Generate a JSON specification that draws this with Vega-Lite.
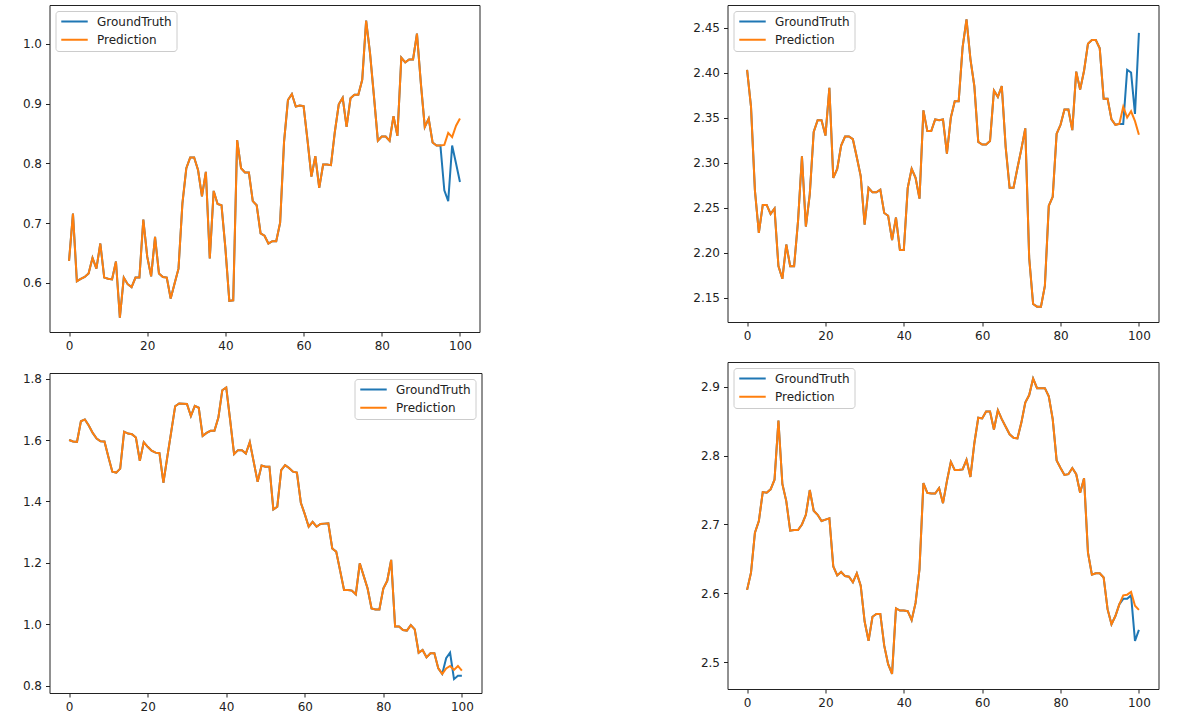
{
"$schema": "https://vega.github.io/schema/vega-lite/v6.json",
"padding": {"left": 17.5, "top": 4, "right": 0, "bottom": 0},
"background": "white",
"config": {
  "font": "DejaVu Sans",
  "view": {"stroke": "#222", "strokeWidth": 1},
  "axis": {"grid": false, "domain": false, "tickColor": "#222", "tickSize": 4, "labelPadding": 4, "labelFontSize": 12, "labelColor": "#222", "title": null, "labelFont": "DejaVu Sans"},
  "legend": {"labelFont": "DejaVu Sans", "title": null, "symbolType": "stroke", "symbolSize": 700, "symbolStrokeWidth": 2, "labelFontSize": 12, "labelOffset": 8, "padding": 4.5, "clipHeight": 12, "rowPadding": 6.3, "strokeColor": "#cccccc", "fillColor": "rgba(255,255,255,0.8)", "cornerRadius": 3, "labelColor": "#222"}
},
"datasets": {
"p1": [
{"x":0,"GroundTruth":0.637,"Prediction":0.637},{"x":1,"GroundTruth":0.716,"Prediction":0.716},{"x":2,"GroundTruth":0.603,"Prediction":0.603},{"x":3,"GroundTruth":0.607,"Prediction":0.607},{"x":4,"GroundTruth":0.610,"Prediction":0.610},{"x":5,"GroundTruth":0.616,"Prediction":0.616},{"x":6,"GroundTruth":0.642,"Prediction":0.642},{"x":7,"GroundTruth":0.624,"Prediction":0.624},{"x":8,"GroundTruth":0.666,"Prediction":0.666},{"x":9,"GroundTruth":0.609,"Prediction":0.609},
{"x":10,"GroundTruth":0.607,"Prediction":0.607},{"x":11,"GroundTruth":0.606,"Prediction":0.606},{"x":12,"GroundTruth":0.636,"Prediction":0.636},{"x":13,"GroundTruth":0.542,"Prediction":0.542},{"x":14,"GroundTruth":0.609,"Prediction":0.609},{"x":15,"GroundTruth":0.598,"Prediction":0.598},{"x":16,"GroundTruth":0.593,"Prediction":0.593},{"x":17,"GroundTruth":0.609,"Prediction":0.609},{"x":18,"GroundTruth":0.609,"Prediction":0.609},{"x":19,"GroundTruth":0.706,"Prediction":0.706},
{"x":20,"GroundTruth":0.644,"Prediction":0.644},{"x":21,"GroundTruth":0.611,"Prediction":0.611},{"x":22,"GroundTruth":0.677,"Prediction":0.677},{"x":23,"GroundTruth":0.616,"Prediction":0.616},{"x":24,"GroundTruth":0.610,"Prediction":0.610},{"x":25,"GroundTruth":0.609,"Prediction":0.609},{"x":26,"GroundTruth":0.574,"Prediction":0.574},{"x":27,"GroundTruth":0.599,"Prediction":0.599},{"x":28,"GroundTruth":0.624,"Prediction":0.624},{"x":29,"GroundTruth":0.733,"Prediction":0.733},
{"x":30,"GroundTruth":0.792,"Prediction":0.792},{"x":31,"GroundTruth":0.810,"Prediction":0.810},{"x":32,"GroundTruth":0.810,"Prediction":0.810},{"x":33,"GroundTruth":0.789,"Prediction":0.789},{"x":34,"GroundTruth":0.745,"Prediction":0.745},{"x":35,"GroundTruth":0.786,"Prediction":0.786},{"x":36,"GroundTruth":0.641,"Prediction":0.641},{"x":37,"GroundTruth":0.754,"Prediction":0.754},{"x":38,"GroundTruth":0.732,"Prediction":0.732},{"x":39,"GroundTruth":0.730,"Prediction":0.730},
{"x":40,"GroundTruth":0.658,"Prediction":0.658},{"x":41,"GroundTruth":0.570,"Prediction":0.570},{"x":42,"GroundTruth":0.571,"Prediction":0.571},{"x":43,"GroundTruth":0.839,"Prediction":0.839},{"x":44,"GroundTruth":0.792,"Prediction":0.792},{"x":45,"GroundTruth":0.785,"Prediction":0.785},{"x":46,"GroundTruth":0.785,"Prediction":0.785},{"x":47,"GroundTruth":0.737,"Prediction":0.737},{"x":48,"GroundTruth":0.730,"Prediction":0.730},{"x":49,"GroundTruth":0.683,"Prediction":0.683},
{"x":50,"GroundTruth":0.679,"Prediction":0.679},{"x":51,"GroundTruth":0.666,"Prediction":0.666},{"x":52,"GroundTruth":0.670,"Prediction":0.670},{"x":53,"GroundTruth":0.670,"Prediction":0.670},{"x":54,"GroundTruth":0.701,"Prediction":0.701},{"x":55,"GroundTruth":0.836,"Prediction":0.836},{"x":56,"GroundTruth":0.906,"Prediction":0.906},{"x":57,"GroundTruth":0.916,"Prediction":0.916},{"x":58,"GroundTruth":0.895,"Prediction":0.895},{"x":59,"GroundTruth":0.897,"Prediction":0.897},
{"x":60,"GroundTruth":0.896,"Prediction":0.896},{"x":61,"GroundTruth":0.839,"Prediction":0.839},{"x":62,"GroundTruth":0.778,"Prediction":0.778},{"x":63,"GroundTruth":0.812,"Prediction":0.812},{"x":64,"GroundTruth":0.759,"Prediction":0.759},{"x":65,"GroundTruth":0.798,"Prediction":0.798},{"x":66,"GroundTruth":0.798,"Prediction":0.798},{"x":67,"GroundTruth":0.797,"Prediction":0.797},{"x":68,"GroundTruth":0.853,"Prediction":0.853},{"x":69,"GroundTruth":0.899,"Prediction":0.899},
{"x":70,"GroundTruth":0.910,"Prediction":0.910},{"x":71,"GroundTruth":0.861,"Prediction":0.861},{"x":72,"GroundTruth":0.909,"Prediction":0.909},{"x":73,"GroundTruth":0.915,"Prediction":0.915},{"x":74,"GroundTruth":0.915,"Prediction":0.915},{"x":75,"GroundTruth":0.940,"Prediction":0.940},{"x":76,"GroundTruth":1.039,"Prediction":1.039},{"x":77,"GroundTruth":0.984,"Prediction":0.984},{"x":78,"GroundTruth":0.912,"Prediction":0.912},{"x":79,"GroundTruth":0.838,"Prediction":0.838},
{"x":80,"GroundTruth":0.845,"Prediction":0.845},{"x":81,"GroundTruth":0.845,"Prediction":0.845},{"x":82,"GroundTruth":0.838,"Prediction":0.838},{"x":83,"GroundTruth":0.879,"Prediction":0.879},{"x":84,"GroundTruth":0.846,"Prediction":0.846},{"x":85,"GroundTruth":0.977,"Prediction":0.977},{"x":86,"GroundTruth":0.969,"Prediction":0.969},{"x":87,"GroundTruth":0.974,"Prediction":0.974},{"x":88,"GroundTruth":0.974,"Prediction":0.974},{"x":89,"GroundTruth":1.017,"Prediction":1.017},
{"x":90,"GroundTruth":0.934,"Prediction":0.934},{"x":91,"GroundTruth":0.861,"Prediction":0.861},{"x":92,"GroundTruth":0.875,"Prediction":0.875},{"x":93,"GroundTruth":0.835,"Prediction":0.835},{"x":94,"GroundTruth":0.830,"Prediction":0.830},{"x":95,"GroundTruth":0.830,"Prediction":0.830},{"x":96,"GroundTruth":0.755,"Prediction":0.831},{"x":97,"GroundTruth":0.737,"Prediction":0.851},{"x":98,"GroundTruth":0.830,"Prediction":0.844},{"x":99,"GroundTruth":0.800,"Prediction":0.863},
{"x":100,"GroundTruth":0.769,"Prediction":0.875}
],
"p2": [
{"x":0,"GroundTruth":2.403,"Prediction":2.403},{"x":1,"GroundTruth":2.362,"Prediction":2.362},{"x":2,"GroundTruth":2.269,"Prediction":2.269},{"x":3,"GroundTruth":2.222,"Prediction":2.222},{"x":4,"GroundTruth":2.253,"Prediction":2.253},{"x":5,"GroundTruth":2.253,"Prediction":2.253},{"x":6,"GroundTruth":2.243,"Prediction":2.243},{"x":7,"GroundTruth":2.249,"Prediction":2.249},{"x":8,"GroundTruth":2.185,"Prediction":2.185},{"x":9,"GroundTruth":2.171,"Prediction":2.171},
{"x":10,"GroundTruth":2.209,"Prediction":2.209},{"x":11,"GroundTruth":2.185,"Prediction":2.185},{"x":12,"GroundTruth":2.185,"Prediction":2.185},{"x":13,"GroundTruth":2.235,"Prediction":2.235},{"x":14,"GroundTruth":2.307,"Prediction":2.307},{"x":15,"GroundTruth":2.229,"Prediction":2.229},{"x":16,"GroundTruth":2.265,"Prediction":2.265},{"x":17,"GroundTruth":2.334,"Prediction":2.334},{"x":18,"GroundTruth":2.347,"Prediction":2.347},{"x":19,"GroundTruth":2.347,"Prediction":2.347},
{"x":20,"GroundTruth":2.330,"Prediction":2.330},{"x":21,"GroundTruth":2.383,"Prediction":2.383},{"x":22,"GroundTruth":2.283,"Prediction":2.283},{"x":23,"GroundTruth":2.293,"Prediction":2.293},{"x":24,"GroundTruth":2.319,"Prediction":2.319},{"x":25,"GroundTruth":2.329,"Prediction":2.329},{"x":26,"GroundTruth":2.329,"Prediction":2.329},{"x":27,"GroundTruth":2.326,"Prediction":2.326},{"x":28,"GroundTruth":2.306,"Prediction":2.306},{"x":29,"GroundTruth":2.285,"Prediction":2.285},
{"x":30,"GroundTruth":2.231,"Prediction":2.231},{"x":31,"GroundTruth":2.272,"Prediction":2.272},{"x":32,"GroundTruth":2.267,"Prediction":2.267},{"x":33,"GroundTruth":2.267,"Prediction":2.267},{"x":34,"GroundTruth":2.270,"Prediction":2.270},{"x":35,"GroundTruth":2.244,"Prediction":2.244},{"x":36,"GroundTruth":2.241,"Prediction":2.241},{"x":37,"GroundTruth":2.214,"Prediction":2.214},{"x":38,"GroundTruth":2.239,"Prediction":2.239},{"x":39,"GroundTruth":2.203,"Prediction":2.203},
{"x":40,"GroundTruth":2.203,"Prediction":2.203},{"x":41,"GroundTruth":2.272,"Prediction":2.272},{"x":42,"GroundTruth":2.293,"Prediction":2.293},{"x":43,"GroundTruth":2.283,"Prediction":2.283},{"x":44,"GroundTruth":2.260,"Prediction":2.260},{"x":45,"GroundTruth":2.358,"Prediction":2.358},{"x":46,"GroundTruth":2.335,"Prediction":2.335},{"x":47,"GroundTruth":2.335,"Prediction":2.335},{"x":48,"GroundTruth":2.348,"Prediction":2.348},{"x":49,"GroundTruth":2.347,"Prediction":2.347},
{"x":50,"GroundTruth":2.348,"Prediction":2.348},{"x":51,"GroundTruth":2.310,"Prediction":2.310},{"x":52,"GroundTruth":2.350,"Prediction":2.350},{"x":53,"GroundTruth":2.368,"Prediction":2.368},{"x":54,"GroundTruth":2.368,"Prediction":2.368},{"x":55,"GroundTruth":2.428,"Prediction":2.428},{"x":56,"GroundTruth":2.459,"Prediction":2.459},{"x":57,"GroundTruth":2.415,"Prediction":2.415},{"x":58,"GroundTruth":2.385,"Prediction":2.385},{"x":59,"GroundTruth":2.323,"Prediction":2.323},
{"x":60,"GroundTruth":2.320,"Prediction":2.320},{"x":61,"GroundTruth":2.320,"Prediction":2.320},{"x":62,"GroundTruth":2.324,"Prediction":2.324},{"x":63,"GroundTruth":2.380,"Prediction":2.380},{"x":64,"GroundTruth":2.373,"Prediction":2.373},{"x":65,"GroundTruth":2.385,"Prediction":2.385},{"x":66,"GroundTruth":2.317,"Prediction":2.317},{"x":67,"GroundTruth":2.272,"Prediction":2.272},{"x":68,"GroundTruth":2.272,"Prediction":2.272},{"x":69,"GroundTruth":2.294,"Prediction":2.294},
{"x":70,"GroundTruth":2.315,"Prediction":2.315},{"x":71,"GroundTruth":2.338,"Prediction":2.338},{"x":72,"GroundTruth":2.194,"Prediction":2.194},{"x":73,"GroundTruth":2.143,"Prediction":2.143},{"x":74,"GroundTruth":2.140,"Prediction":2.140},{"x":75,"GroundTruth":2.140,"Prediction":2.140},{"x":76,"GroundTruth":2.163,"Prediction":2.163},{"x":77,"GroundTruth":2.252,"Prediction":2.252},{"x":78,"GroundTruth":2.262,"Prediction":2.262},{"x":79,"GroundTruth":2.332,"Prediction":2.332},
{"x":80,"GroundTruth":2.342,"Prediction":2.342},{"x":81,"GroundTruth":2.359,"Prediction":2.359},{"x":82,"GroundTruth":2.359,"Prediction":2.359},{"x":83,"GroundTruth":2.336,"Prediction":2.336},{"x":84,"GroundTruth":2.401,"Prediction":2.401},{"x":85,"GroundTruth":2.381,"Prediction":2.381},{"x":86,"GroundTruth":2.402,"Prediction":2.402},{"x":87,"GroundTruth":2.432,"Prediction":2.432},{"x":88,"GroundTruth":2.436,"Prediction":2.436},{"x":89,"GroundTruth":2.436,"Prediction":2.436},
{"x":90,"GroundTruth":2.427,"Prediction":2.427},{"x":91,"GroundTruth":2.371,"Prediction":2.371},{"x":92,"GroundTruth":2.371,"Prediction":2.371},{"x":93,"GroundTruth":2.348,"Prediction":2.348},{"x":94,"GroundTruth":2.342,"Prediction":2.342},{"x":95,"GroundTruth":2.343,"Prediction":2.343},{"x":96,"GroundTruth":2.343,"Prediction":2.362},{"x":97,"GroundTruth":2.403,"Prediction":2.350},{"x":98,"GroundTruth":2.400,"Prediction":2.357},{"x":99,"GroundTruth":2.354,"Prediction":2.346},
{"x":100,"GroundTruth":2.444,"Prediction":2.331}
],
"p3": [
{"x":0,"GroundTruth":1.600,"Prediction":1.600},{"x":1,"GroundTruth":1.595,"Prediction":1.595},{"x":2,"GroundTruth":1.594,"Prediction":1.594},{"x":3,"GroundTruth":1.661,"Prediction":1.661},{"x":4,"GroundTruth":1.667,"Prediction":1.667},{"x":5,"GroundTruth":1.647,"Prediction":1.647},{"x":6,"GroundTruth":1.623,"Prediction":1.623},{"x":7,"GroundTruth":1.605,"Prediction":1.605},{"x":8,"GroundTruth":1.596,"Prediction":1.596},{"x":9,"GroundTruth":1.595,"Prediction":1.595},
{"x":10,"GroundTruth":1.545,"Prediction":1.545},{"x":11,"GroundTruth":1.497,"Prediction":1.497},{"x":12,"GroundTruth":1.494,"Prediction":1.494},{"x":13,"GroundTruth":1.507,"Prediction":1.507},{"x":14,"GroundTruth":1.627,"Prediction":1.627},{"x":15,"GroundTruth":1.621,"Prediction":1.621},{"x":16,"GroundTruth":1.619,"Prediction":1.619},{"x":17,"GroundTruth":1.608,"Prediction":1.608},{"x":18,"GroundTruth":1.532,"Prediction":1.532},{"x":19,"GroundTruth":1.593,"Prediction":1.593},
{"x":20,"GroundTruth":1.578,"Prediction":1.578},{"x":21,"GroundTruth":1.565,"Prediction":1.565},{"x":22,"GroundTruth":1.559,"Prediction":1.559},{"x":23,"GroundTruth":1.557,"Prediction":1.557},{"x":24,"GroundTruth":1.461,"Prediction":1.461},{"x":25,"GroundTruth":1.545,"Prediction":1.545},{"x":26,"GroundTruth":1.627,"Prediction":1.627},{"x":27,"GroundTruth":1.710,"Prediction":1.710},{"x":28,"GroundTruth":1.719,"Prediction":1.719},{"x":29,"GroundTruth":1.718,"Prediction":1.718},
{"x":30,"GroundTruth":1.717,"Prediction":1.717},{"x":31,"GroundTruth":1.678,"Prediction":1.678},{"x":32,"GroundTruth":1.711,"Prediction":1.711},{"x":33,"GroundTruth":1.705,"Prediction":1.705},{"x":34,"GroundTruth":1.613,"Prediction":1.613},{"x":35,"GroundTruth":1.623,"Prediction":1.623},{"x":36,"GroundTruth":1.630,"Prediction":1.630},{"x":37,"GroundTruth":1.630,"Prediction":1.630},{"x":38,"GroundTruth":1.673,"Prediction":1.673},{"x":39,"GroundTruth":1.762,"Prediction":1.762},
{"x":40,"GroundTruth":1.771,"Prediction":1.771},{"x":41,"GroundTruth":1.665,"Prediction":1.665},{"x":42,"GroundTruth":1.554,"Prediction":1.554},{"x":43,"GroundTruth":1.567,"Prediction":1.567},{"x":44,"GroundTruth":1.567,"Prediction":1.567},{"x":45,"GroundTruth":1.556,"Prediction":1.556},{"x":46,"GroundTruth":1.593,"Prediction":1.593},{"x":47,"GroundTruth":1.529,"Prediction":1.529},{"x":48,"GroundTruth":1.464,"Prediction":1.464},{"x":49,"GroundTruth":1.517,"Prediction":1.517},
{"x":50,"GroundTruth":1.513,"Prediction":1.513},{"x":51,"GroundTruth":1.513,"Prediction":1.513},{"x":52,"GroundTruth":1.374,"Prediction":1.374},{"x":53,"GroundTruth":1.383,"Prediction":1.383},{"x":54,"GroundTruth":1.502,"Prediction":1.502},{"x":55,"GroundTruth":1.518,"Prediction":1.518},{"x":56,"GroundTruth":1.509,"Prediction":1.509},{"x":57,"GroundTruth":1.497,"Prediction":1.497},{"x":58,"GroundTruth":1.494,"Prediction":1.494},{"x":59,"GroundTruth":1.396,"Prediction":1.396},
{"x":60,"GroundTruth":1.359,"Prediction":1.359},{"x":61,"GroundTruth":1.318,"Prediction":1.318},{"x":62,"GroundTruth":1.334,"Prediction":1.334},{"x":63,"GroundTruth":1.318,"Prediction":1.318},{"x":64,"GroundTruth":1.327,"Prediction":1.327},{"x":65,"GroundTruth":1.328,"Prediction":1.328},{"x":66,"GroundTruth":1.329,"Prediction":1.329},{"x":67,"GroundTruth":1.247,"Prediction":1.247},{"x":68,"GroundTruth":1.237,"Prediction":1.237},{"x":69,"GroundTruth":1.175,"Prediction":1.175},
{"x":70,"GroundTruth":1.112,"Prediction":1.112},{"x":71,"GroundTruth":1.112,"Prediction":1.112},{"x":72,"GroundTruth":1.110,"Prediction":1.110},{"x":73,"GroundTruth":1.098,"Prediction":1.098},{"x":74,"GroundTruth":1.199,"Prediction":1.199},{"x":75,"GroundTruth":1.158,"Prediction":1.158},{"x":76,"GroundTruth":1.117,"Prediction":1.117},{"x":77,"GroundTruth":1.052,"Prediction":1.052},{"x":78,"GroundTruth":1.049,"Prediction":1.049},{"x":79,"GroundTruth":1.049,"Prediction":1.049},
{"x":80,"GroundTruth":1.117,"Prediction":1.117},{"x":81,"GroundTruth":1.142,"Prediction":1.142},{"x":82,"GroundTruth":1.210,"Prediction":1.210},{"x":83,"GroundTruth":0.993,"Prediction":0.993},{"x":84,"GroundTruth":0.993,"Prediction":0.993},{"x":85,"GroundTruth":0.982,"Prediction":0.982},{"x":86,"GroundTruth":0.980,"Prediction":0.980},{"x":87,"GroundTruth":0.998,"Prediction":0.998},{"x":88,"GroundTruth":0.984,"Prediction":0.984},{"x":89,"GroundTruth":0.908,"Prediction":0.908},
{"x":90,"GroundTruth":0.917,"Prediction":0.917},{"x":91,"GroundTruth":0.893,"Prediction":0.893},{"x":92,"GroundTruth":0.906,"Prediction":0.906},{"x":93,"GroundTruth":0.906,"Prediction":0.906},{"x":94,"GroundTruth":0.857,"Prediction":0.857},{"x":95,"GroundTruth":0.839,"Prediction":0.839},{"x":96,"GroundTruth":0.890,"Prediction":0.857},{"x":97,"GroundTruth":0.908,"Prediction":0.865},{"x":98,"GroundTruth":0.822,"Prediction":0.852},{"x":99,"GroundTruth":0.833,"Prediction":0.865},
{"x":100,"GroundTruth":0.833,"Prediction":0.850}
],
"p4": [
{"x":0,"GroundTruth":2.605,"Prediction":2.605},{"x":1,"GroundTruth":2.630,"Prediction":2.630},{"x":2,"GroundTruth":2.688,"Prediction":2.688},{"x":3,"GroundTruth":2.705,"Prediction":2.705},{"x":4,"GroundTruth":2.747,"Prediction":2.747},{"x":5,"GroundTruth":2.746,"Prediction":2.746},{"x":6,"GroundTruth":2.751,"Prediction":2.751},{"x":7,"GroundTruth":2.765,"Prediction":2.765},{"x":8,"GroundTruth":2.851,"Prediction":2.851},{"x":9,"GroundTruth":2.759,"Prediction":2.759},
{"x":10,"GroundTruth":2.734,"Prediction":2.734},{"x":11,"GroundTruth":2.691,"Prediction":2.691},{"x":12,"GroundTruth":2.692,"Prediction":2.692},{"x":13,"GroundTruth":2.692,"Prediction":2.692},{"x":14,"GroundTruth":2.700,"Prediction":2.700},{"x":15,"GroundTruth":2.714,"Prediction":2.714},{"x":16,"GroundTruth":2.750,"Prediction":2.750},{"x":17,"GroundTruth":2.720,"Prediction":2.720},{"x":18,"GroundTruth":2.714,"Prediction":2.714},{"x":19,"GroundTruth":2.705,"Prediction":2.705},
{"x":20,"GroundTruth":2.707,"Prediction":2.707},{"x":21,"GroundTruth":2.709,"Prediction":2.709},{"x":22,"GroundTruth":2.639,"Prediction":2.639},{"x":23,"GroundTruth":2.626,"Prediction":2.626},{"x":24,"GroundTruth":2.631,"Prediction":2.631},{"x":25,"GroundTruth":2.625,"Prediction":2.625},{"x":26,"GroundTruth":2.624,"Prediction":2.624},{"x":27,"GroundTruth":2.616,"Prediction":2.616},{"x":28,"GroundTruth":2.629,"Prediction":2.629},{"x":29,"GroundTruth":2.611,"Prediction":2.611},
{"x":30,"GroundTruth":2.559,"Prediction":2.559},{"x":31,"GroundTruth":2.531,"Prediction":2.531},{"x":32,"GroundTruth":2.566,"Prediction":2.566},{"x":33,"GroundTruth":2.570,"Prediction":2.570},{"x":34,"GroundTruth":2.570,"Prediction":2.570},{"x":35,"GroundTruth":2.524,"Prediction":2.524},{"x":36,"GroundTruth":2.497,"Prediction":2.497},{"x":37,"GroundTruth":2.483,"Prediction":2.483},{"x":38,"GroundTruth":2.578,"Prediction":2.578},{"x":39,"GroundTruth":2.575,"Prediction":2.575},
{"x":40,"GroundTruth":2.575,"Prediction":2.575},{"x":41,"GroundTruth":2.574,"Prediction":2.574},{"x":42,"GroundTruth":2.561,"Prediction":2.561},{"x":43,"GroundTruth":2.586,"Prediction":2.586},{"x":44,"GroundTruth":2.635,"Prediction":2.635},{"x":45,"GroundTruth":2.760,"Prediction":2.760},{"x":46,"GroundTruth":2.746,"Prediction":2.746},{"x":47,"GroundTruth":2.745,"Prediction":2.745},{"x":48,"GroundTruth":2.745,"Prediction":2.745},{"x":49,"GroundTruth":2.753,"Prediction":2.753},
{"x":50,"GroundTruth":2.731,"Prediction":2.731},{"x":51,"GroundTruth":2.763,"Prediction":2.763},{"x":52,"GroundTruth":2.791,"Prediction":2.791},{"x":53,"GroundTruth":2.779,"Prediction":2.779},{"x":54,"GroundTruth":2.779,"Prediction":2.779},{"x":55,"GroundTruth":2.780,"Prediction":2.780},{"x":56,"GroundTruth":2.794,"Prediction":2.794},{"x":57,"GroundTruth":2.769,"Prediction":2.769},{"x":58,"GroundTruth":2.818,"Prediction":2.818},{"x":59,"GroundTruth":2.855,"Prediction":2.855},
{"x":60,"GroundTruth":2.854,"Prediction":2.854},{"x":61,"GroundTruth":2.864,"Prediction":2.864},{"x":62,"GroundTruth":2.864,"Prediction":2.864},{"x":63,"GroundTruth":2.838,"Prediction":2.838},{"x":64,"GroundTruth":2.866,"Prediction":2.866},{"x":65,"GroundTruth":2.853,"Prediction":2.853},{"x":66,"GroundTruth":2.842,"Prediction":2.842},{"x":67,"GroundTruth":2.831,"Prediction":2.831},{"x":68,"GroundTruth":2.826,"Prediction":2.826},{"x":69,"GroundTruth":2.825,"Prediction":2.825},
{"x":70,"GroundTruth":2.848,"Prediction":2.848},{"x":71,"GroundTruth":2.877,"Prediction":2.877},{"x":72,"GroundTruth":2.888,"Prediction":2.888},{"x":73,"GroundTruth":2.912,"Prediction":2.912},{"x":74,"GroundTruth":2.898,"Prediction":2.898},{"x":75,"GroundTruth":2.898,"Prediction":2.898},{"x":76,"GroundTruth":2.898,"Prediction":2.898},{"x":77,"GroundTruth":2.886,"Prediction":2.886},{"x":78,"GroundTruth":2.853,"Prediction":2.853},{"x":79,"GroundTruth":2.793,"Prediction":2.793},
{"x":80,"GroundTruth":2.782,"Prediction":2.782},{"x":81,"GroundTruth":2.772,"Prediction":2.772},{"x":82,"GroundTruth":2.773,"Prediction":2.773},{"x":83,"GroundTruth":2.782,"Prediction":2.782},{"x":84,"GroundTruth":2.773,"Prediction":2.773},{"x":85,"GroundTruth":2.746,"Prediction":2.746},{"x":86,"GroundTruth":2.767,"Prediction":2.767},{"x":87,"GroundTruth":2.659,"Prediction":2.659},{"x":88,"GroundTruth":2.627,"Prediction":2.627},{"x":89,"GroundTruth":2.629,"Prediction":2.629},
{"x":90,"GroundTruth":2.629,"Prediction":2.629},{"x":91,"GroundTruth":2.623,"Prediction":2.623},{"x":92,"GroundTruth":2.577,"Prediction":2.577},{"x":93,"GroundTruth":2.555,"Prediction":2.555},{"x":94,"GroundTruth":2.567,"Prediction":2.567},{"x":95,"GroundTruth":2.584,"Prediction":2.584},{"x":96,"GroundTruth":2.592,"Prediction":2.597},{"x":97,"GroundTruth":2.592,"Prediction":2.598},{"x":98,"GroundTruth":2.597,"Prediction":2.602},{"x":99,"GroundTruth":2.531,"Prediction":2.582},
{"x":100,"GroundTruth":2.547,"Prediction":2.576}
]
},
"hconcat": [
 {
  "spacing": 19,
  "vconcat": [
   {
    "width": 430, "height": 327,
    "data": {"name": "p1"},
    "transform": [{"fold": ["GroundTruth", "Prediction"], "as": ["series", "value"]}],
    "mark": {"type": "line", "strokeWidth": 2},
    "encoding": {
     "x": {"field": "x", "type": "quantitative", "scale": {"domain": [-5, 105], "nice": false, "zero": false}, "axis": {"values": [0, 20, 40, 60, 80, 100], "minExtent": 20}},
     "y": {"field": "value", "type": "quantitative", "scale": {"domain": [0.518, 1.065], "nice": false, "zero": false}, "axis": {"values": [0.6, 0.7, 0.8, 0.9, 1.0], "format": ".1f", "minExtent": 31}},
     "color": {"field": "series", "type": "nominal", "scale": {"domain": ["GroundTruth", "Prediction"], "range": ["#1f77b4", "#ff7f0e"]},
      "legend": {"orient": "top-left", "offset": 6}}
    }
   },
   {
    "width": 432, "height": 320,
    "data": {"name": "p3"},
    "transform": [{"fold": ["GroundTruth", "Prediction"], "as": ["series", "value"]}],
    "mark": {"type": "line", "strokeWidth": 2},
    "encoding": {
     "x": {"field": "x", "type": "quantitative", "scale": {"domain": [-5, 105], "nice": false, "zero": false}, "axis": {"values": [0, 20, 40, 60, 80, 100], "minExtent": 20}},
     "y": {"field": "value", "type": "quantitative", "scale": {"domain": [0.777, 1.818], "nice": false, "zero": false}, "axis": {"values": [0.8, 1.0, 1.2, 1.4, 1.6, 1.8], "format": ".1f", "minExtent": 31}},
     "color": {"field": "series", "type": "nominal", "scale": {"domain": ["GroundTruth", "Prediction"], "range": ["#1f77b4", "#ff7f0e"]},
      "legend": {"orient": "top-right", "offset": 6}}
    }
   }
  ],
  "resolve": {"scale": {"color": "independent"}, "legend": {"color": "independent"}}
 },
 {
  "spacing": 18,
  "vconcat": [
   {
    "width": 431, "height": 317,
    "data": {"name": "p2"},
    "transform": [{"fold": ["GroundTruth", "Prediction"], "as": ["series", "value"]}],
    "mark": {"type": "line", "strokeWidth": 2},
    "encoding": {
     "x": {"field": "x", "type": "quantitative", "scale": {"domain": [-5, 105], "nice": false, "zero": false}, "axis": {"values": [0, 20, 40, 60, 80, 100], "minExtent": 20}},
     "y": {"field": "value", "type": "quantitative", "scale": {"domain": [2.123, 2.475], "nice": false, "zero": false}, "axis": {"values": [2.15, 2.2, 2.25, 2.3, 2.35, 2.4, 2.45], "format": ".2f", "minExtent": 40}},
     "color": {"field": "series", "type": "nominal", "scale": {"domain": ["GroundTruth", "Prediction"], "range": ["#1f77b4", "#ff7f0e"]},
      "legend": {"orient": "top-left", "offset": 6}}
    }
   },
   {
    "width": 431, "height": 327,
    "data": {"name": "p4"},
    "transform": [{"fold": ["GroundTruth", "Prediction"], "as": ["series", "value"]}],
    "mark": {"type": "line", "strokeWidth": 2},
    "encoding": {
     "x": {"field": "x", "type": "quantitative", "scale": {"domain": [-5, 105], "nice": false, "zero": false}, "axis": {"values": [0, 20, 40, 60, 80, 100], "minExtent": 20}},
     "y": {"field": "value", "type": "quantitative", "scale": {"domain": [2.461, 2.936], "nice": false, "zero": false}, "axis": {"values": [2.5, 2.6, 2.7, 2.8, 2.9], "format": ".1f", "minExtent": 40}},
     "color": {"field": "series", "type": "nominal", "scale": {"domain": ["GroundTruth", "Prediction"], "range": ["#1f77b4", "#ff7f0e"]},
      "legend": {"orient": "top-left", "offset": 6}}
    }
   }
  ],
  "resolve": {"scale": {"color": "independent"}, "legend": {"color": "independent"}}
 }
],
"spacing": 204,
"resolve": {"scale": {"color": "independent"}, "legend": {"color": "independent"}}
}
